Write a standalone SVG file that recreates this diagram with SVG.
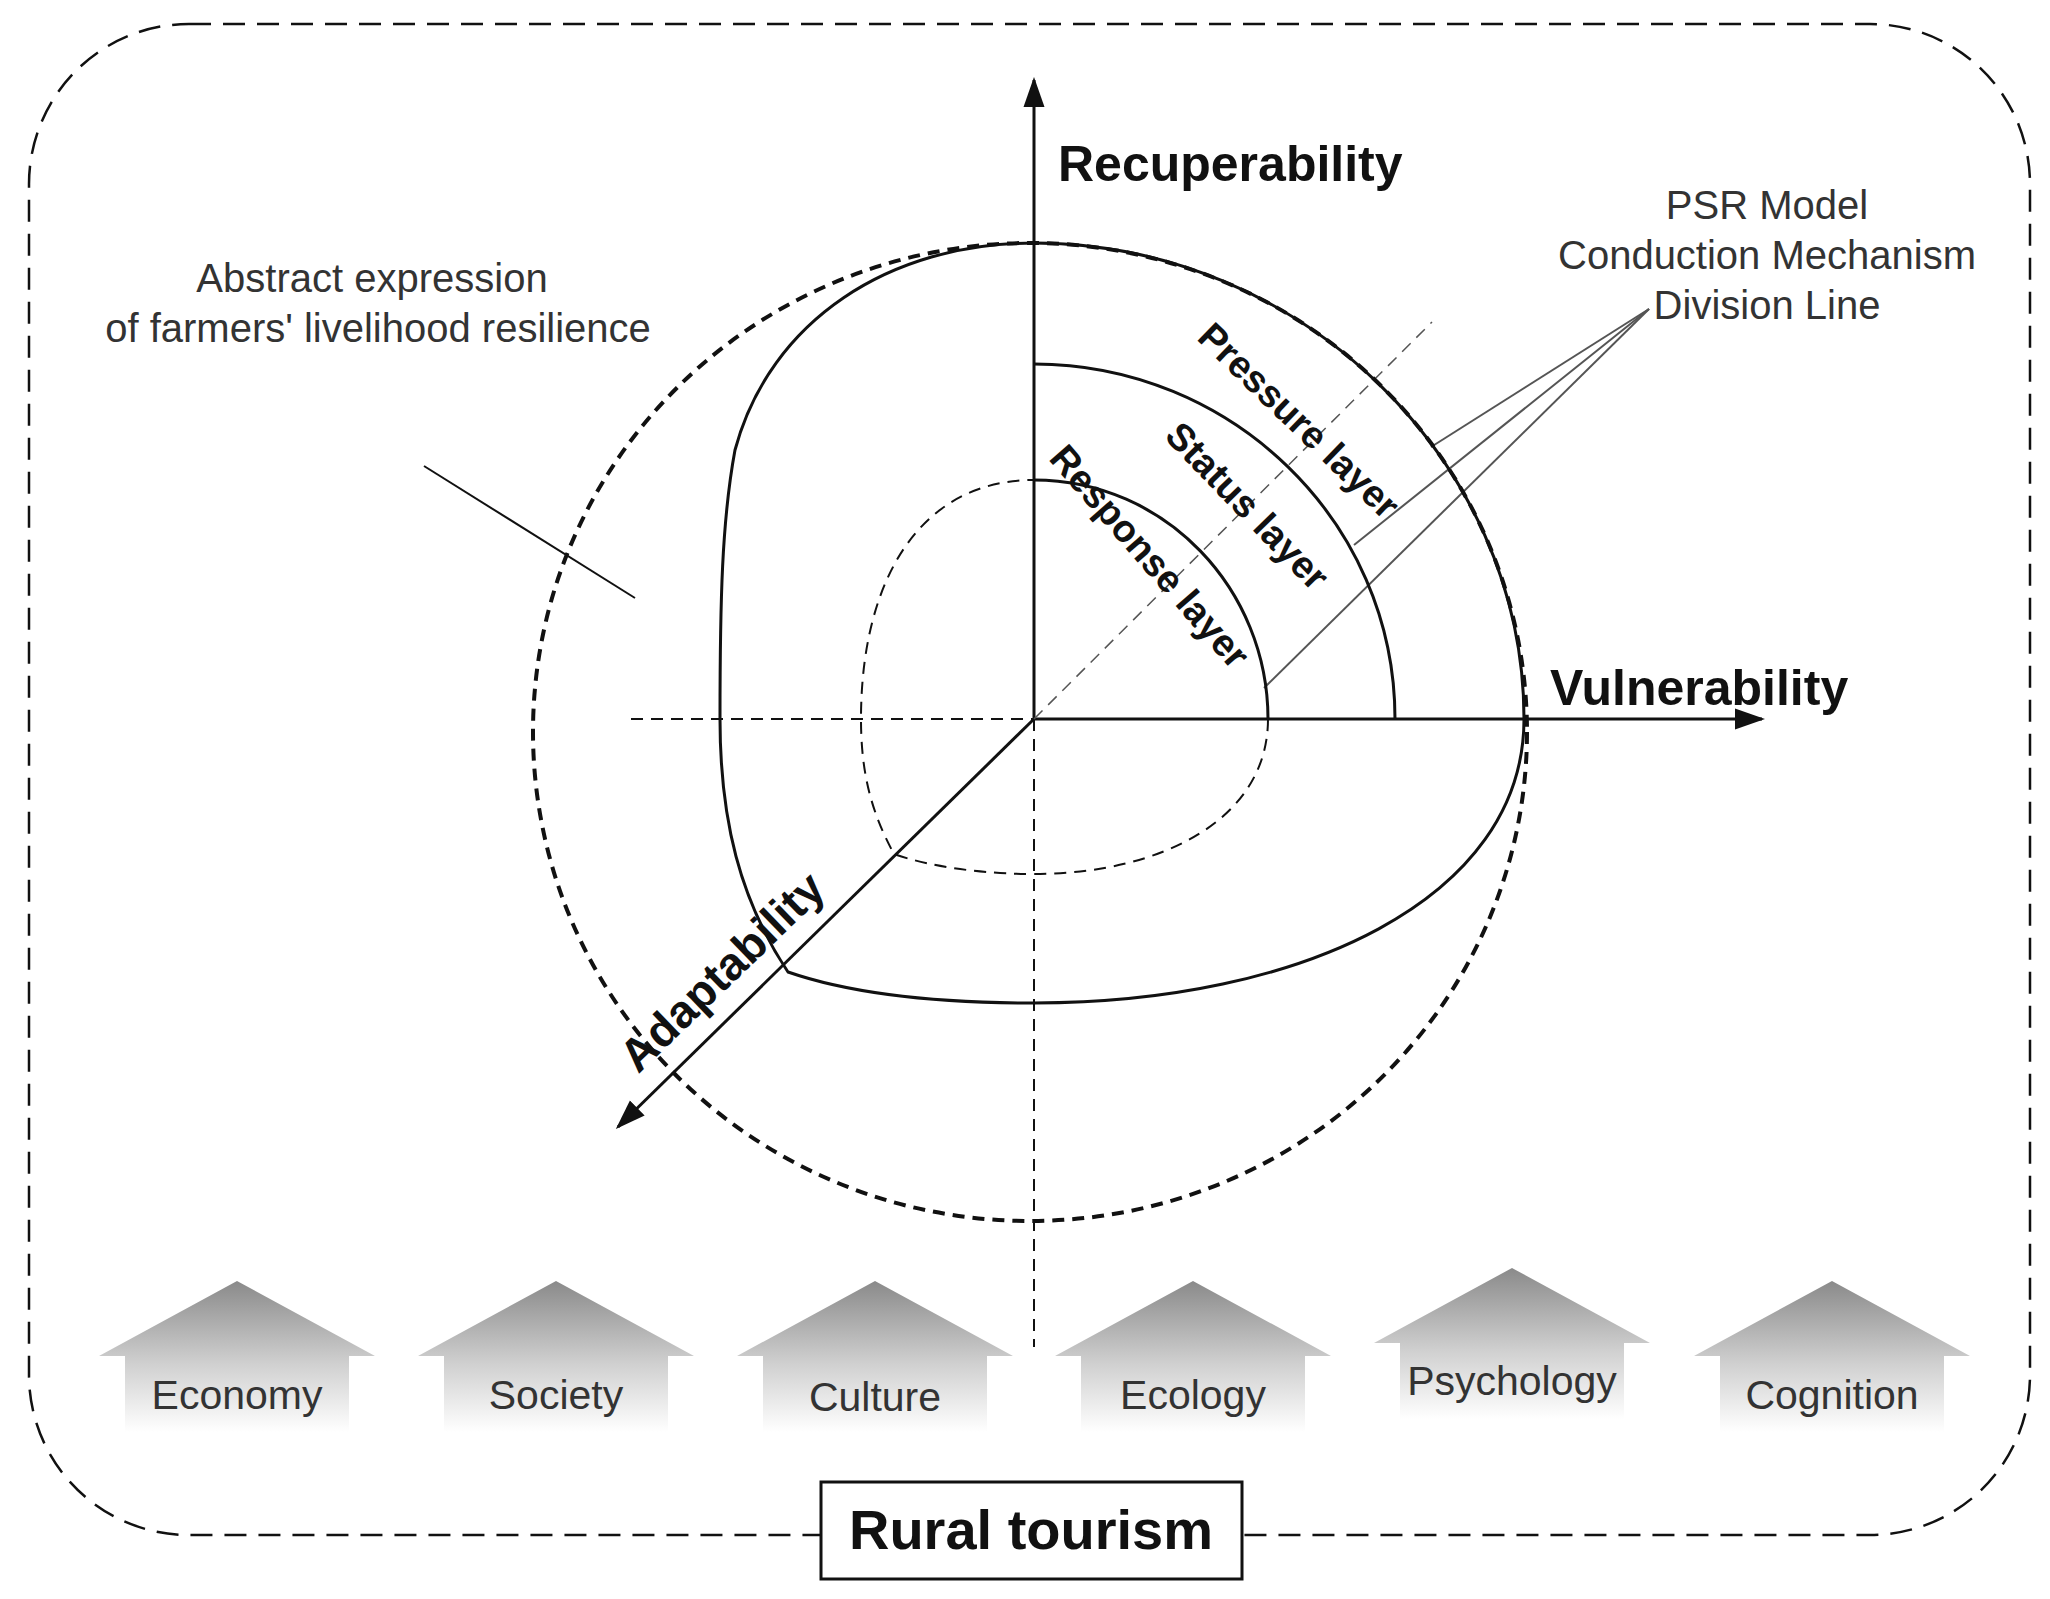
<svg xmlns="http://www.w3.org/2000/svg" width="2050" height="1599" viewBox="0 0 2050 1599">
<style>
text{font-family:"Liberation Sans",Arial,sans-serif;fill:#111}
.b{font-weight:bold}
.s{fill:none;stroke:#111;stroke-width:3}
.d{fill:none;stroke:#111;stroke-width:2;stroke-dasharray:12 8}
.lab{font-size:41px;fill:#333;text-anchor:middle}
.t{font-size:40px;fill:#333;text-anchor:middle}
</style>
<defs>
<marker id="ah2" viewBox="0 0 10 10" refX="9" refY="5" markerWidth="30" markerHeight="30" markerUnits="userSpaceOnUse" orient="auto"><path d="M0,1.5L10,5L0,8.5z" fill="#111"/></marker>
<linearGradient id="g" x1="0" y1="0" x2="0" y2="1"><stop offset="0" stop-color="#8a8a8a"/><stop offset="0.55" stop-color="#d0d0d0"/><stop offset="1" stop-color="#fff"/></linearGradient>
<g id="house"><path d="M0,0L138,75L112,75L112,151L-112,151L-112,75L-138,75z" fill="url(#g)"/></g>
</defs>
<rect x="29" y="24" width="2001" height="1511" rx="160" fill="none" stroke="#111" stroke-width="2.5" stroke-dasharray="22 12"/>
<g id="connectors">
<line x1="1034" y1="719" x2="1034" y2="80" class="s" marker-end="url(#ah2)"/>
<line x1="1034" y1="719" x2="1762" y2="719" class="s" marker-end="url(#ah2)"/>
<line x1="1034" y1="719" x2="618" y2="1127" class="s" marker-end="url(#ah2)"/>
<line x1="631" y1="719" x2="1034" y2="719" class="d"/>
<line x1="1034" y1="719" x2="1034" y2="1347" class="d"/>
<line x1="1034" y1="719" x2="1432" y2="322" stroke="#555" stroke-width="1.5" stroke-dasharray="12 8"/>
<line x1="1649" y1="309" x2="1431" y2="447" stroke="#555" stroke-width="2"/>
<line x1="1649" y1="309" x2="1354" y2="545" stroke="#555" stroke-width="2"/>
<line x1="1649" y1="309" x2="1264" y2="688" stroke="#555" stroke-width="2"/>
<line x1="424" y1="466" x2="635" y2="598" stroke="#111" stroke-width="2"/>
</g>
<g id="circle"><ellipse cx="1030" cy="732" rx="497" ry="489" fill="none" stroke="#111" stroke-width="4" stroke-dasharray="12 8"/></g>
<g id="outer-shape"><path class="s" d="M1034,243 C1300,243 1524,460 1524,719 C1524,900 1300,1003 1034,1003 C920,1003 840,990 788,972 C740,900 720,820 720,719 C720,600 722,520 735,450 C770,320 890,243 1034,243z"/></g>
<g id="status"><path class="s" d="M1034,364 C1230,364 1395,520 1395,719"/></g>
<g id="response"><path class="s" d="M1034,480 C1166,480 1268,590 1268,719"/>
<path class="d" d="M1268,719 C1268,820 1160,874 1034,874 C960,874 910,860 894,854 C870,810 861,770 861,719 C861,580 920,480 1034,480"/></g>
<g id="labels">
<text class="b" x="1058" y="181" font-size="50">Recuperability</text>
<text class="b" x="1550" y="705" font-size="50">Vulnerability</text>
<text class="t" x="1767" y="219">PSR Model</text>
<text class="t" x="1767" y="269">Conduction Mechanism</text>
<text class="t" x="1767" y="319">Division Line</text>
<text class="t" x="372" y="292" font-size="41">Abstract expression</text>
<text class="t" x="378" y="342" font-size="41">of farmers' livelihood resilience</text>
<text class="b" font-size="38" text-anchor="middle" transform="translate(1290,430) rotate(44)">Pressure layer</text>
<text class="b" font-size="38" text-anchor="middle" transform="translate(1238,515) rotate(46)">Status layer</text>
<text class="b" font-size="38" text-anchor="middle" transform="translate(1140,565) rotate(49)">Response layer</text>
<text class="b" font-size="46" text-anchor="middle" transform="translate(733,983) rotate(-44)">Adaptability</text>
</g>
<g id="n-economy"><use href="#house" x="237" y="1281"/><text class="lab" x="237" y="1409">Economy</text></g>
<g id="n-society"><use href="#house" x="556" y="1281"/><text class="lab" x="556" y="1409">Society</text></g>
<g id="n-culture"><use href="#house" x="875" y="1281"/><text class="lab" x="875" y="1411">Culture</text></g>
<g id="n-ecology"><use href="#house" x="1193" y="1281"/><text class="lab" x="1193" y="1409">Ecology</text></g>
<g id="n-psychology"><use href="#house" x="1512" y="1268"/><text class="lab" x="1512" y="1395">Psychology</text></g>
<g id="n-cognition"><use href="#house" x="1832" y="1281"/><text class="lab" x="1832" y="1409">Cognition</text></g>
<g id="n-rural"><rect x="821" y="1482" width="421" height="97" fill="#fff" stroke="#111" stroke-width="3"/><text class="b" x="1031" y="1549" font-size="56" text-anchor="middle">Rural tourism</text></g>
</svg>
